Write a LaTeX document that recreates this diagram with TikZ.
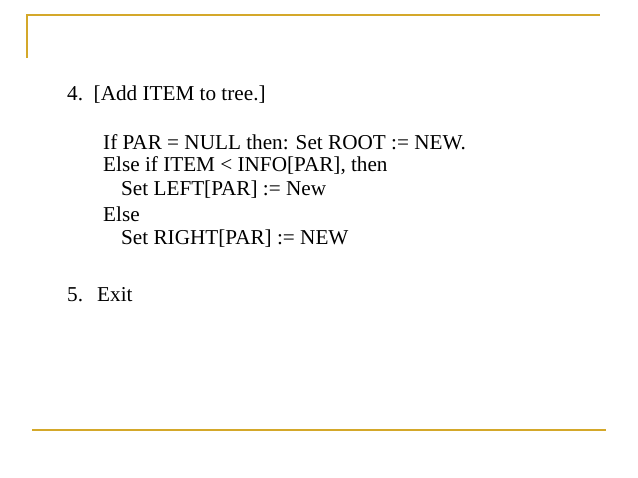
\documentclass[tikz,border=0pt]{standalone}
\usepackage{fontspec}
\setmainfont{Liberation Serif}
\definecolor{gold}{HTML}{D4A82A}
\begin{document}
\begin{tikzpicture}[x=1pt,y=-1pt,
  txt/.style={anchor=west,inner sep=0pt,font=\fontsize{21.2}{24}\selectfont}]
\useasboundingbox (0,0) rectangle (638,478);
\draw[gold,line width=1.2pt] (27,58) -- (27,15) -- (600,15);
\draw[gold,line width=1.2pt] (32,430) -- (606,430);
\node[txt] (l1) at (67,95) {4.\ \ [Add ITEM to tree.]};
\node[txt] (l2) at (103,142) {If PAR = NULL then: Set ROOT := NEW.};
\node[txt] (l3) at (103,166) {Else if ITEM < INFO[PAR], then};
\node[txt] (l4) at (121,190) {Set LEFT[PAR] := New};
\node[txt] (l5) at (103,214) {Else};
\node[txt] (l6) at (121,239) {Set RIGHT[PAR] := NEW};
\node[txt] (l7) at (67,295) {5.\ \ \,Exit};
\end{tikzpicture}
\end{document}
